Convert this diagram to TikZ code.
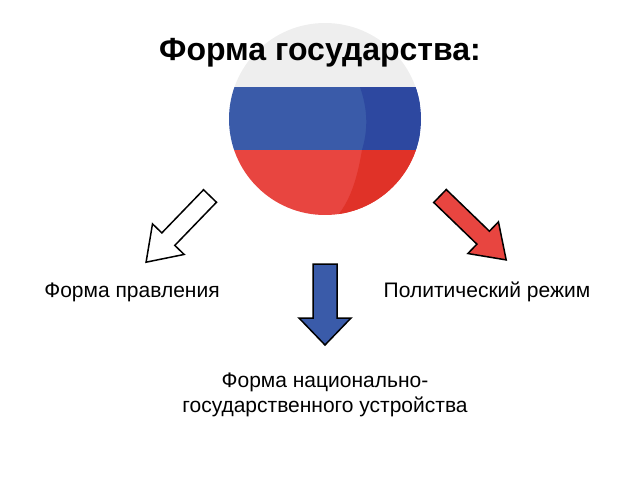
\documentclass[tikz,border=0pt]{standalone}
\usepackage{fontspec}
\setmainfont{Liberation Sans}
\begin{document}
\begin{tikzpicture}[x=1pt,y=-1pt,
  lbl/.style={font=\fontsize{21}{25}\selectfont, align=center},
  barrow/.style={draw=black, line width=1.5pt, line join=miter}]
\useasboundingbox (0,0) rectangle (640,480);
\definecolor{fw}{HTML}{EEEEEE}
\definecolor{fb}{HTML}{3A5BA9}
\definecolor{fbd}{HTML}{2D48A0}
\definecolor{fr}{HTML}{E84540}
\definecolor{frd}{HTML}{E03228}
\coordinate (c) at (325,119);
\begin{scope}
\clip (c) circle (96);
\fill[fw] (229,23) rectangle (421,87);
\fill[fb] (229,87) rectangle (421,150);
\fill[fr] (229,150) rectangle (421,215);
\fill[fbd] (360,87) .. controls (368,110) and (368,130) .. (362,150) -- (421,150) -- (421,87) -- cycle;
\fill[frd] (362,150) .. controls (357,180) and (350,200) .. (338,215) -- (421,215) -- (421,150) -- cycle;
\end{scope}
\node[font=\bfseries\fontsize{32}{36}\selectfont] (title) at (320,53) {Форма государства:};
\def\arrowpath{(0,-9) -- (60,-9) -- (60,-22) -- (92,0) -- (60,22) -- (60,9) -- (0,9) -- cycle}
\coordinate (la) at (210,196);
\coordinate (ra) at (440,196);
\coordinate (ba) at (325,264);
\draw[barrow, fill=white, shift={(la)}, rotate=-134] \arrowpath;
\draw[barrow, fill=fr, shift={(ra)}, rotate=-44] \arrowpath;
\draw[barrow, fill=fb, shift={(ba)}, rotate=-90] (0,-12) -- (54,-12) -- (54,-26) -- (81,0) -- (54,26) -- (54,12) -- (0,12) -- cycle;
\node[lbl] (fp) at (132,292) {Форма правления};
\node[lbl] (pr) at (487,292) {Политический режим};
\node[lbl] (fn) at (325,395) {Форма национально-\\государственного устройства};
\end{tikzpicture}
\end{document}
